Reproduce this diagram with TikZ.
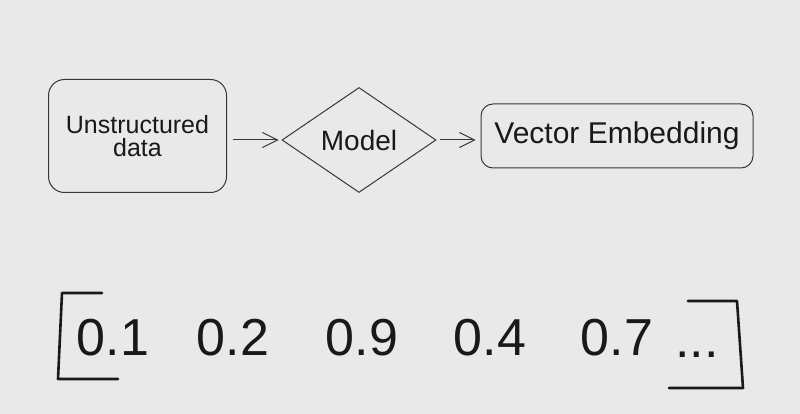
\documentclass[tikz,border=0pt]{standalone}
\usepackage{fontspec}
\setmainfont{Liberation Sans}
\usetikzlibrary{shapes.geometric,arrows.meta}
\definecolor{bg}{RGB}{233,233,233}
\definecolor{ink}{RGB}{25,25,25}
\definecolor{edge}{RGB}{55,55,55}
\begin{document}
\begin{tikzpicture}[x=1pt,y=-1pt,
  box/.style={draw=edge,line width=1pt,rectangle,inner sep=0pt,text=ink,align=center},
  flow/.style={draw=edge,line width=1pt,-{Straight Barb[length=15pt,width=15pt,line width=1pt]}},
  num/.style={anchor=base,inner sep=0pt,text=ink,font=\fontsize{52}{52}\selectfont},
  brk/.style={draw=ink,line width=2.6pt,line join=round,line cap=round}]
\fill[bg] (0,0) rectangle (800,414);
\useasboundingbox (0,0) rectangle (800,414);
% boxes
\node[box,rounded corners=16pt,minimum width=178pt,minimum height=113pt,
      font=\fontsize{25}{23}\selectfont] (b1) at (137.5,136) {Unstructured\\data};
\node[box,diamond,minimum width=154pt,minimum height=105pt,
      font=\fontsize{28}{28}\selectfont] (m) at (359,140) {Model};
\node[box,rounded corners=12pt,minimum width=272pt,minimum height=64pt,
      font=\fontsize{30}{30}\selectfont] (b2) at (617,136) {Vector Embedding};
% arrows
\draw[flow,shorten <=6pt,shorten >=3pt] (b1.east |- m.west) -- (m.west);
\draw[flow,shorten <=3pt,shorten >=5pt] (m.east) -- (m.east -| b2.west);
% numbers
\node[num] (n1) at (113,355) {0.1};
\node[num] (n2) at (233,355) {0.2};
\node[num] (n3) at (362,355) {0.9};
\node[num] (n4) at (490,355) {0.4};
\node[num] (n5) at (617,355) {0.7};
\node[num] (n6) at (697,357) {...};
% brackets
\draw[brk] (102,293) -- (62,293) -- (58,379) -- (118,379);
\draw[brk] (688,301) -- (737,301) -- (743,388) -- (669,388);
\end{tikzpicture}
\end{document}
